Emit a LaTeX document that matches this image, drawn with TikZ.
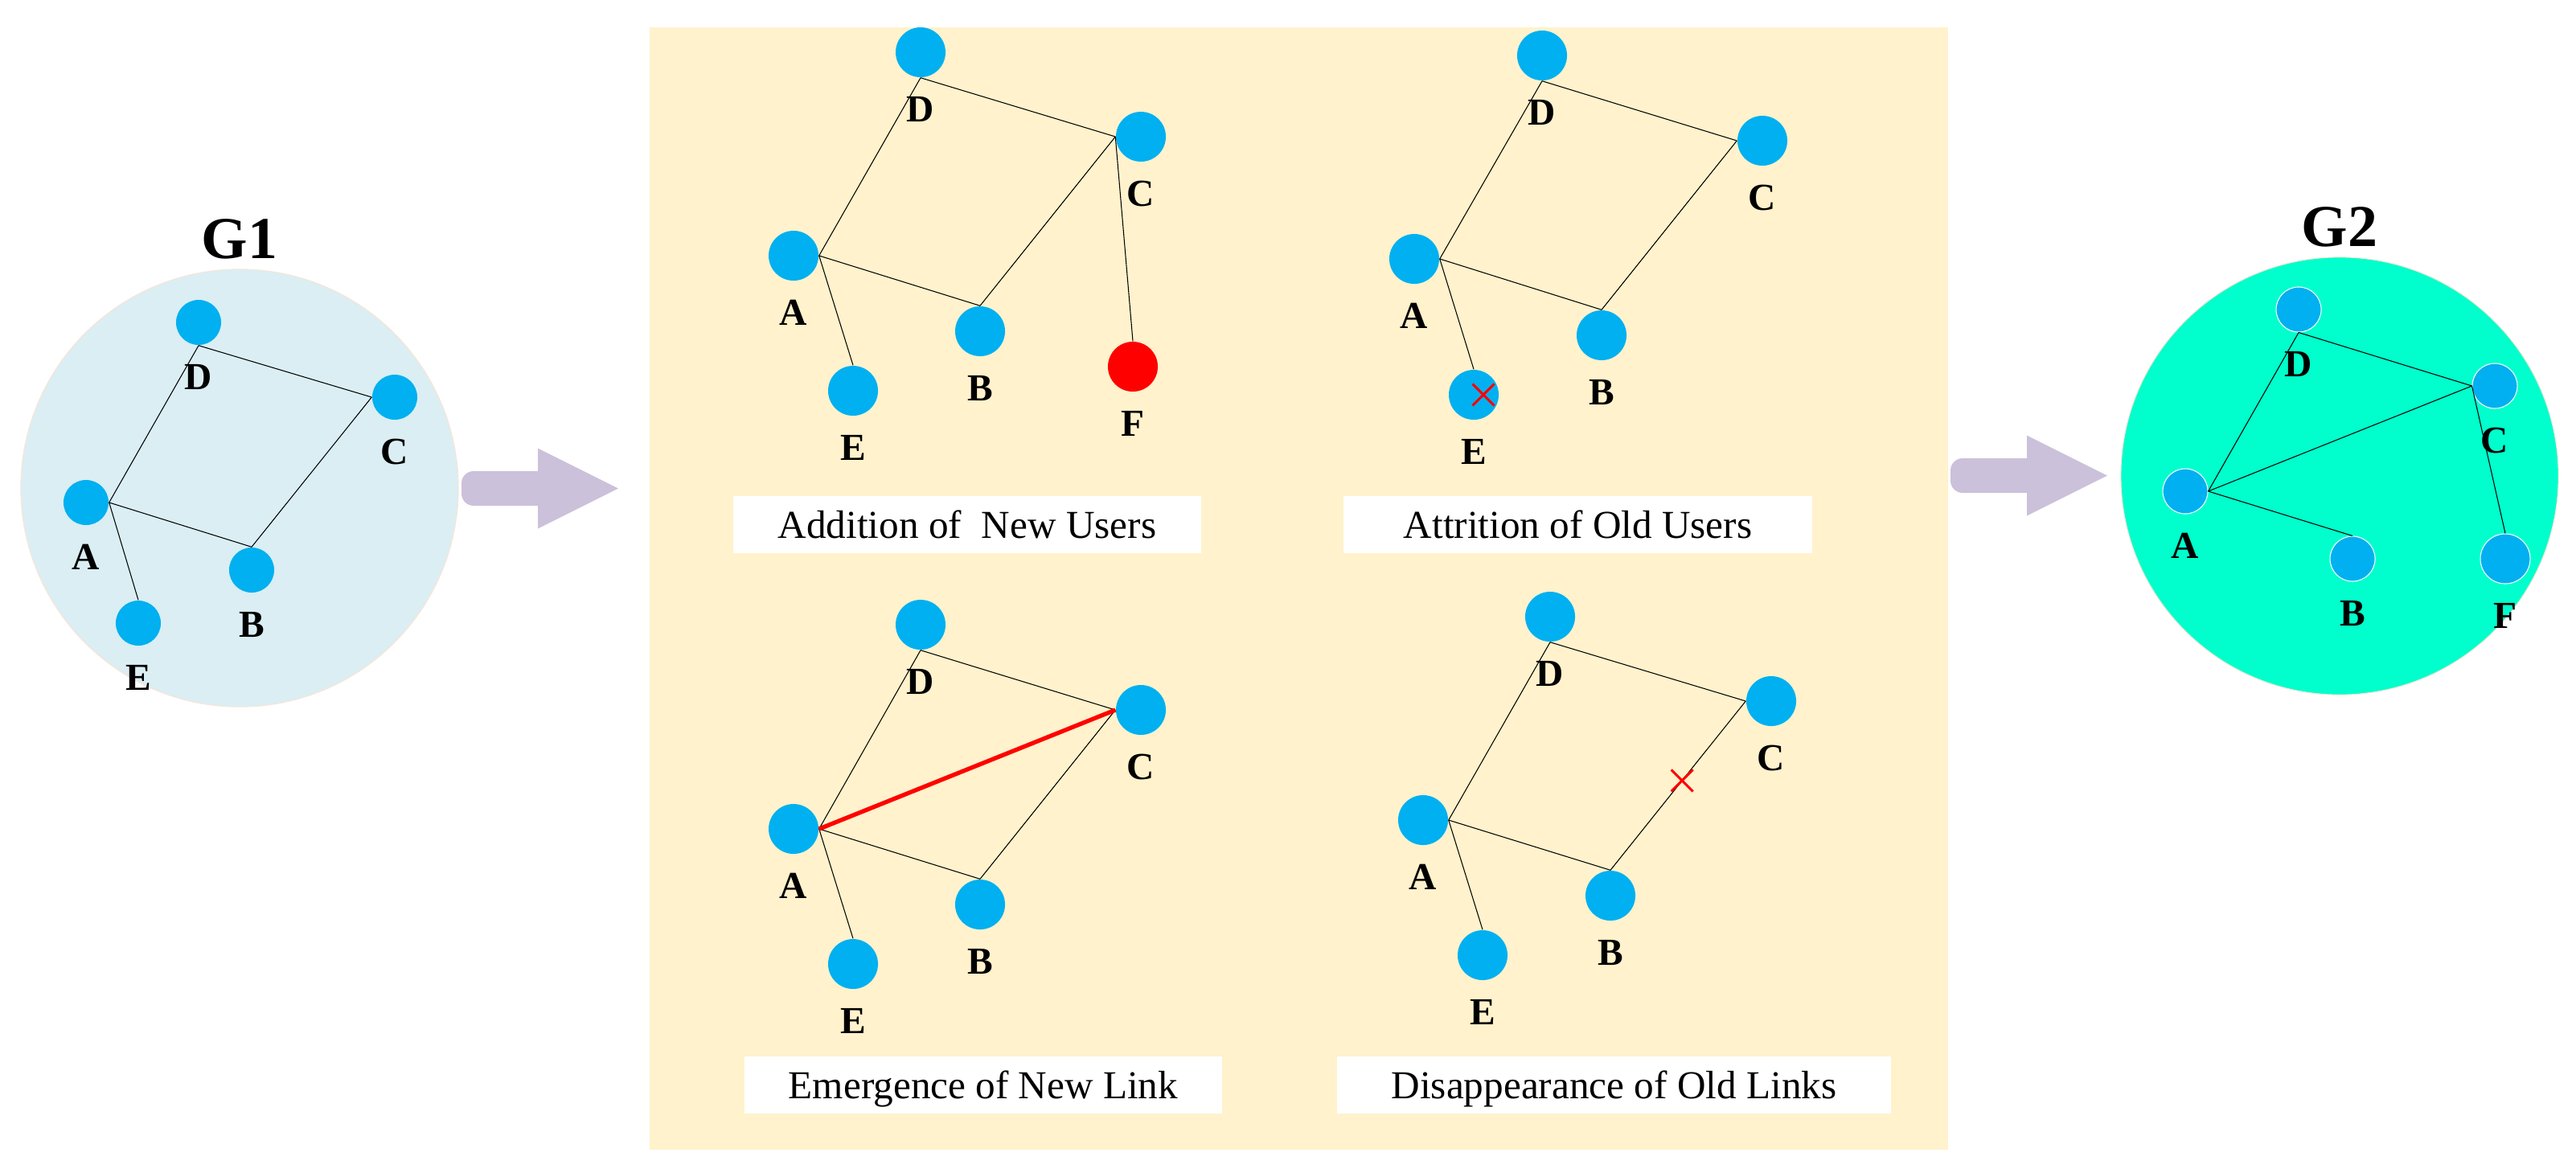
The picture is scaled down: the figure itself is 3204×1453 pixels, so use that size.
\documentclass[tikz,border=0pt]{standalone}
\usepackage{fontspec}
\setmainfont{Liberation Serif}
\usepackage{xcolor}
\usepackage{tikz}
\usetikzlibrary{positioning,shapes.misc}

\definecolor{userblue}{HTML}{00B0F0}
\definecolor{oldbg}{HTML}{DAEEF3}
\definecolor{newbg}{HTML}{00FFCC}
\definecolor{panelbg}{HTML}{FFF2CC}
\definecolor{flowc}{HTML}{CCC1DA}
\definecolor{rimc}{HTML}{FBE5D6}

\begin{document}
\begin{tikzpicture}[
				x=0.01cm, y=-0.01cm,
				graphbg/.style={circle, draw=rimc, line width=0.3pt, minimum size=5.44cm, inner sep=0pt},
				user/.style={circle, fill=userblue, minimum size=0.62cm, inner sep=0pt},
				smalluser/.style={circle, fill=userblue, minimum size=0.56cm, inner sep=0pt},
				newuser/.style={circle, fill=red, minimum size=0.62cm, inner sep=0pt},
				lbl/.style={inner sep=0pt, font=\fontsize{13.5}{16}\selectfont\bfseries},
				title/.style={inner sep=0pt, font=\fontsize{21}{25}\selectfont\bfseries},
				caption/.style={fill=white, minimum height=0.71cm, inner sep=0pt, text height=0.33cm, text depth=0pt, font=\fontsize{14}{17}\selectfont},
				link/.style={black, line width=0.3pt},
				newlink/.style={red, line width=1.5pt},
				crossmark/.style={cross out, draw=red, line width=0.85pt, minimum size=0.24cm, inner sep=0pt},
				flow/.style={fill=flowc},
				]
				\useasboundingbox (0,0) rectangle (3204,1453);
				
				%Background
				\fill[panelbg] (808,34) rectangle (2423,1430);
				\node[graphbg, fill=oldbg](oldG) at (298,607){};
				\node[graphbg, fill=newbg](newG) at (2910,592){};
				\node[title](oldT)[above=0.11cm of oldG]{G1};
				\node[title](newT)[above=0.11cm of newG]{G2};
				
				%Arrows
				\begin{scope}[shift={(574,607.5)}]
					\fill[flow, rounded corners=0.15cm] (0,-21.5) rectangle (110,21.5);
					\fill[flow] (95,-50) -- (195,0) -- (95,50) -- cycle;
				\end{scope}
				\begin{scope}[shift={(2426,591.5)}]
					\fill[flow, rounded corners=0.15cm] (0,-21.5) rectangle (110,21.5);
					\fill[flow] (95,-50) -- (195,0) -- (95,50) -- cycle;
				\end{scope}
				
				%Nodes G1
				\node[smalluser](oldD) at (247,401){};
				\node[smalluser](oldC) at (491,494){};
				\node[smalluser](oldA) at (107,625){};
				\node[smalluser](oldB) at (313,709){};
				\node[smalluser](oldE) at (172,775){};
				\node[lbl](oldDl)[below=0.23cm of oldD]{D};
				\node[lbl](oldCl)[below=0.23cm of oldC]{C};
				\node[lbl](oldAl)[below=0.23cm of oldA]{A};
				\node[lbl](oldBl)[below=0.23cm of oldB]{B};
				\node[lbl](oldEl)[below=0.23cm of oldE]{E};
				
				%Lines G1
				\draw[link] (oldA.east) -- (oldD.south);
				\draw[link] (oldD.south) -- (oldC.west);
				\draw[link] (oldA.east) -- (oldB.north);
				\draw[link] (oldB.north) -- (oldC.west);
				\draw[link] (oldA.east) -- (oldE.north);
				
				%Nodes Addition of New Users
				\node[user](addD) at (1145,65){};
				\node[user](addC) at (1419,170){};
				\node[user](addA) at (987,318){};
				\node[user](addB) at (1219,412){};
				\node[user](addE) at (1061,486){};
				\node[newuser](addF) at (1409,456){};
				\node[lbl](addDl)[below=0.23cm of addD]{D};
				\node[lbl](addCl)[below=0.23cm of addC]{C};
				\node[lbl](addAl)[below=0.23cm of addA]{A};
				\node[lbl](addBl)[below=0.23cm of addB]{B};
				\node[lbl](addEl)[below=0.23cm of addE]{E};
				\node[lbl](addFl)[below=0.23cm of addF]{F};
				\node[caption, minimum width=5.82cm](addCap) at (1203,652.5){Addition of\ \ New Users};
				
				%Lines Addition of New Users
				\draw[link] (addA.east) -- (addD.south);
				\draw[link] (addD.south) -- (addC.west);
				\draw[link] (addA.east) -- (addB.north);
				\draw[link] (addB.north) -- (addC.west);
				\draw[link] (addA.east) -- (addE.north);
				\draw[link] (addC.west) -- (addF.north);
				
				%Nodes Attrition of Old Users
				\node[user](attD) at (1918,69){};
				\node[user](attC) at (2192,175){};
				\node[user](attA) at (1759,322){};
				\node[user](attB) at (1992,417){};
				\node[user](attE) at (1833,491){};
				\node[crossmark, xshift=0.12cm](attX) at (attE){};
				\node[lbl](attDl)[below=0.23cm of attD]{D};
				\node[lbl](attCl)[below=0.23cm of attC]{C};
				\node[lbl](attAl)[below=0.23cm of attA]{A};
				\node[lbl](attBl)[below=0.23cm of attB]{B};
				\node[lbl](attEl)[below=0.23cm of attE]{E};
				\node[caption, minimum width=5.83cm](attCap) at (1962.5,652.5){Attrition of Old Users};
				
				%Lines Attrition of Old Users
				\draw[link] (attA.east) -- (attD.south);
				\draw[link] (attD.south) -- (attC.west);
				\draw[link] (attA.east) -- (attB.north);
				\draw[link] (attB.north) -- (attC.west);
				\draw[link] (attA.east) -- (attE.north);
				
				%Nodes Emergence of New Link
				\node[user](emgD) at (1145,777){};
				\node[user](emgC) at (1419,883){};
				\node[user](emgA) at (987,1031){};
				\node[user](emgB) at (1219,1125){};
				\node[user](emgE) at (1061,1199){};
				\node[lbl](emgDl)[below=0.23cm of emgD]{D};
				\node[lbl](emgCl)[below=0.23cm of emgC]{C};
				\node[lbl](emgAl)[below=0.23cm of emgA]{A};
				\node[lbl](emgBl)[below=0.23cm of emgB]{B};
				\node[lbl](emgEl)[below=0.23cm of emgE]{E};
				\node[caption, minimum width=5.94cm](emgCap) at (1223,1349.5){Emergence of New Link};
				
				%Lines Emergence of New Link
				\draw[link] (emgA.east) -- (emgD.south);
				\draw[link] (emgD.south) -- (emgC.west);
				\draw[link] (emgA.east) -- (emgB.north);
				\draw[link] (emgB.north) -- (emgC.west);
				\draw[link] (emgA.east) -- (emgE.north);
				\draw[newlink] (emgA.east) -- (emgC.west);
				
				%Nodes Disappearance of Old Links
				\node[user](disD) at (1928,767){};
				\node[user](disC) at (2203,872){};
				\node[user](disA) at (1770,1020){};
				\node[user](disB) at (2003,1114){};
				\node[user](disE) at (1844,1188){};
				\node[lbl](disDl)[below=0.23cm of disD]{D};
				\node[lbl](disCl)[below=0.23cm of disC]{C};
				\node[lbl](disAl)[below=0.23cm of disA]{A};
				\node[lbl](disBl)[below=0.23cm of disB]{B};
				\node[lbl](disEl)[below=0.23cm of disE]{E};
				\node[caption, minimum width=6.89cm](disCap) at (2007.5,1349.5){Disappearance of Old Links};
				
				%Lines Disappearance of Old Links
				\draw[link] (disA.east) -- (disD.south);
				\draw[link] (disD.south) -- (disC.west);
				\draw[link] (disA.east) -- (disB.north);
				\draw[link] (disB.north) -- node[crossmark, pos=0.53](disX){} (disC.west);
				\draw[link] (disA.east) -- (disE.north);
				
				%Nodes G2
				\node[smalluser, draw=white, line width=0.3pt](newD) at (2859,385){};
				\node[smalluser, draw=white, line width=0.3pt](newC) at (3103,480){};
				\node[smalluser, draw=white, line width=0.3pt](newA) at (2718,611){};
				\node[smalluser, draw=white, line width=0.3pt](newB) at (2926,695){};
				\node[user, draw=white, line width=0.3pt](newF) at (3116,695){};
				\node[lbl](newDl)[below=0.23cm of newD]{D};
				\node[lbl](newCl)[below=0.23cm of newC]{C};
				\node[lbl](newAl)[below=0.23cm of newA]{A};
				\node[lbl](newBl)[below=0.23cm of newB]{B};
				\node[lbl](newFl)[below=0.23cm of newF]{F};
				
				%Lines G2
				\draw[link] (newA.east) -- (newD.south);
				\draw[link] (newD.south) -- (newC.west);
				\draw[link] (newA.east) -- (newC.west);
				\draw[link] (newA.east) -- (newB.north);
				\draw[link] (newC.west) -- (newF.north);
				
			\end{tikzpicture}
\end{document}
